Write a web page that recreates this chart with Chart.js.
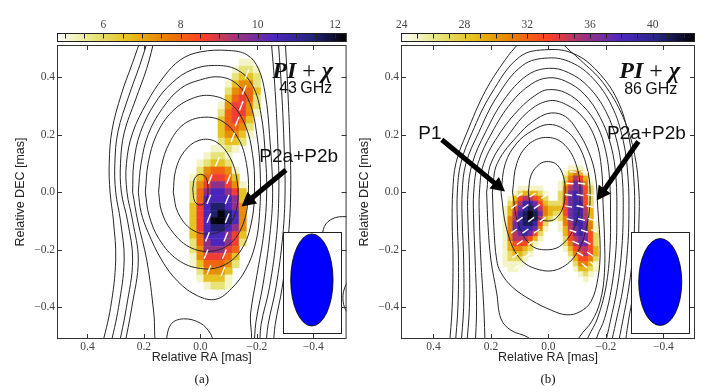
<!DOCTYPE html>
<html>
<head>
<meta charset="utf-8">
<script src="https://cdn.jsdelivr.net/npm/chart.js@4.4.1/dist/chart.umd.min.js"></script>
<style>
html,body{margin:0;padding:0;background:#ffffff;}
body{width:720px;height:392px;position:relative;overflow:hidden;}
.pane{position:absolute;top:0;}
#paneA{left:0;width:354px;height:392px;}
#paneB{left:354px;width:366px;height:392px;}
</style>
</head>
<body>
<div class="pane" id="paneA"><canvas id="chartA" width="354" height="392"></canvas></div>
<div class="pane" id="paneB"><canvas id="chartB" width="366" height="392"></canvas></div>
<script>
// ---------------- DATA ----------------
const axisTicks = [0.4, 0.2, 0.0, -0.2, -0.4];

// colour bars
const cbTicksA = [6, 8, 10, 12];
const cbMinorA = [5, 5.5, 6, 6.5, 7, 7.5, 8, 8.5, 9, 9.5, 10, 10.5, 11, 11.5, 12];
const cbRangeA = [4.8, 12.3];
const cbTicksB = [24, 28, 32, 36, 40];
const cbMinorB = [25, 26, 27, 28, 29, 30, 31, 32, 33, 34, 35, 36, 37, 38, 39, 40, 41, 42];
const cbRangeB = [23.95, 42.7];

// polarised intensity maps: one character per pixel ('.' = blank)
const heatLevelsA = {'1':5.2,'2':5.8,'3':6.6,'4':7.4,'5':8.0,'6':8.7,'7':9.6,'8':10.5,'9':11.5,'X':12.2};
const heatCellA = 0.025, heatX0A = 0.05, heatY0A = 0.45;
const heatRowsA = [
"........11..",
".......1221.",
".......2332.",
"......13442.",
"......24553.",
"......35652.",
".....146642.",
".....256641.",
".....35653..",
".....35542..",
".....34431..",
".....2332...",
"....1121....",
"...1221.....",
"..12332.....",
"..245541....",
".1356653....",
".24677641...",
".25788763...",
".25888873...",
".36899874...",
".3689X984...",
".368XX984...",
".36899874...",
".35888763...",
".25788762...",
".2477765....",
".1466653....",
".1355542....",
"..24443.....",
"..13331.....",
"...1221....."
];

const heatLevelsB = {'1':25,'2':27,'3':29,'4':31,'5':33,'6':35,'7':37,'8':39,'9':41,'X':42.5};
const heatCellB = 0.0175, heatX0B = 0.15, heatY0B = 0.10;
const heatRowsB = [
".....................",
".............111.....",
"............13431....",
"............24653....",
"...........1357641...",
"...11111...1467752...",
"..1233321..2478752...",
".13566542..2578752...",
".24688753222578852...",
"135789864333578863...",
"13689X974322578863...",
"14689X963212478863...",
"147899852..14688741..",
"147888741..13678741..",
"14678752....3578752..",
"14666531....2567752..",
"1355531.....2467752..",
"134432......1356653..",
"123321.......245653..",
"12221........135542..",
"1111..........24431..",
".11...........13321..",
"...............121...",
"................1...."
];

// EVPA sticks: [RA, DEC, angle(deg)]
const evpaA = [
[-0.165,0.41,-68],[-0.155,0.355,-68],[-0.145,0.30,-68],[-0.13,0.245,-68],[-0.115,0.19,-68],
[-0.06,0.105,-68],
[-0.035,0.045,-68],[-0.10,0.045,-68],
[-0.03,-0.025,-68],[-0.095,-0.025,-68],
[-0.03,-0.09,-68],[-0.095,-0.09,-68],
[-0.025,-0.155,-68],[-0.09,-0.155,-68],
[-0.02,-0.215,-68],[-0.085,-0.215,-68],
[-0.03,-0.27,-68],[-0.08,-0.275,-68]
];
const evpaB = [
[0.10,-0.01,-35],[0.055,-0.01,-35],[0.015,-0.015,-35],
[0.12,-0.05,-35],[0.08,-0.05,-35],[0.04,-0.05,-35],
[0.10,-0.095,-35],[0.06,-0.095,-35],[0.02,-0.095,-35],
[0.12,-0.135,-35],[0.08,-0.135,-35],[0.04,-0.135,-35],
[0.10,-0.175,-35],[0.06,-0.175,-35],
[0.115,-0.22,-35],[0.075,-0.22,-35],
[0.11,-0.26,-35],
[-0.085,0.07,5],[-0.125,0.07,5],
[-0.075,0.03,5],[-0.115,0.03,8],
[-0.07,-0.01,8],[-0.11,-0.01,10],[-0.145,-0.01,10],
[-0.07,-0.05,10],[-0.11,-0.05,12],[-0.145,-0.05,12],
[-0.075,-0.095,15],[-0.115,-0.095,15],[-0.15,-0.095,18],
[-0.085,-0.135,20],[-0.125,-0.135,20],[-0.16,-0.135,22],
[-0.095,-0.175,25],[-0.135,-0.175,28],
[-0.11,-0.215,32],[-0.145,-0.215,35],
[-0.125,-0.255,40],[-0.155,-0.25,40]
];

// total intensity contours [RA, DEC]
const contoursAClosed = [
[[0.027,0.01],[0.02,0.048],[0.0,0.062],[-0.02,0.05],[-0.027,0.01],[-0.02,-0.03],[0.0,-0.045],[0.02,-0.032]],
[[0.096,0.0],[0.088,0.075],[0.058,0.14],[0.005,0.18],[-0.055,0.175],[-0.105,0.12],[-0.13,0.04],[-0.13,-0.05],[-0.1,-0.115],[-0.04,-0.145],[0.03,-0.13],[0.08,-0.07]],
[[0.148,0.0],[0.138,0.09],[0.11,0.17],[0.06,0.235],[-0.01,0.26],[-0.08,0.245],[-0.135,0.185],[-0.163,0.1],[-0.17,0.0],[-0.155,-0.1],[-0.11,-0.175],[-0.04,-0.205],[0.04,-0.19],[0.105,-0.13],[0.138,-0.065]],
[[0.195,0.0],[0.185,0.1],[0.155,0.2],[0.1,0.28],[0.03,0.325],[-0.04,0.335],[-0.11,0.305],[-0.16,0.23],[-0.185,0.13],[-0.192,0.02],[-0.182,-0.1],[-0.145,-0.2],[-0.08,-0.255],[0.0,-0.265],[0.08,-0.235],[0.145,-0.165],[0.182,-0.08]],
[[0.22,0.0],[0.21,0.1],[0.185,0.2],[0.135,0.29],[0.07,0.36],[0.0,0.39],[-0.07,0.40],[-0.13,0.375],[-0.175,0.31],[-0.2,0.2],[-0.212,0.07],[-0.21,-0.07],[-0.195,-0.18],[-0.16,-0.27],[-0.11,-0.335],[-0.055,-0.372],[0.01,-0.36],[0.08,-0.31],[0.137,-0.236],[0.185,-0.14],[0.21,-0.07]],
[[0.24,0.0],[0.236,0.1],[0.213,0.206],[0.16,0.31],[0.1,0.38],[0.03,0.425],[-0.05,0.44],[-0.13,0.425],[-0.185,0.37],[-0.215,0.27],[-0.23,0.13],[-0.235,0.0],[-0.225,-0.14],[-0.2,-0.29],[-0.178,-0.42],[-0.17,-0.54],[-0.06,-0.54],[-0.035,-0.49],[0.0,-0.455],[0.06,-0.44],[0.105,-0.46],[0.13,-0.54],[0.155,-0.54],[0.165,-0.42],[0.19,-0.236],[0.222,-0.1]]
];
const contoursAOpen = [
[[0.27,-0.54],[0.243,-0.4],[0.22,-0.236],[0.24,-0.1],[0.26,0.0],[0.262,0.1],[0.24,0.206],[0.19,0.31],[0.13,0.4],[0.07,0.46],[0.0,0.487],[-0.1,0.492],[-0.165,0.477],[-0.205,0.43],[-0.23,0.34],[-0.245,0.2],[-0.256,0.0],[-0.246,-0.15],[-0.222,-0.32],[-0.197,-0.45],[-0.19,-0.54]],
[[0.29,-0.54],[0.262,-0.4],[0.24,-0.236],[0.258,-0.1],[0.28,0.0],[0.283,0.1],[0.27,0.206],[0.23,0.32],[0.19,0.43],[0.16,0.54]],
[[0.32,-0.54],[0.29,-0.4],[0.27,-0.236],[0.283,-0.1],[0.3,0.0],[0.303,0.1],[0.292,0.21],[0.255,0.33],[0.215,0.44],[0.182,0.54]],
[[0.35,-0.54],[0.318,-0.4],[0.3,-0.236],[0.308,-0.1],[0.32,0.0],[0.323,0.1],[0.313,0.215],[0.28,0.34],[0.24,0.45],[0.208,0.54]],
[[-0.25,0.54],[-0.265,0.35],[-0.275,0.15],[-0.278,0.0],[-0.27,-0.15],[-0.245,-0.33],[-0.215,-0.46],[-0.21,-0.54]],
[[-0.275,0.54],[-0.288,0.35],[-0.297,0.15],[-0.3,0.0],[-0.292,-0.15],[-0.268,-0.33],[-0.24,-0.46],[-0.232,-0.54]],
[[-0.3,0.54],[-0.31,0.35],[-0.318,0.15],[-0.32,0.0],[-0.312,-0.15],[-0.29,-0.33],[-0.265,-0.46],[-0.258,-0.54]],
[[-0.53,-0.085],[-0.48,-0.088],[-0.445,-0.11],[-0.43,-0.15]],
[[-0.53,-0.30],[-0.512,-0.33],[-0.505,-0.37],[-0.515,-0.41],[-0.53,-0.42]]
];

const contoursBClosed = [
[[0.07,0.0],[0.06,0.06],[0.03,0.098],[0.0,0.106],[-0.03,0.095],[-0.052,0.055],[-0.058,0.0],[-0.05,-0.055],[-0.025,-0.092],[0.005,-0.1],[0.035,-0.09],[0.06,-0.055]],
[[0.125,0.0],[0.11,0.1],[0.07,0.165],[0.01,0.19],[-0.05,0.17],[-0.095,0.1],[-0.11,0.0],[-0.095,-0.11],[-0.05,-0.18],[0.0,-0.2],[0.06,-0.185],[0.105,-0.11]],
[[0.165,0.0],[0.15,0.1],[0.11,0.17],[0.057,0.213],[0.0,0.235],[-0.055,0.218],[-0.1,0.17],[-0.133,0.09],[-0.145,0.0],[-0.135,-0.11],[-0.1,-0.21],[-0.04,-0.265],[0.03,-0.27],[0.1,-0.23],[0.145,-0.13]],
[[0.195,0.0],[0.178,0.1],[0.098,0.206],[0.04,0.255],[-0.01,0.275],[-0.06,0.262],[-0.1,0.215],[-0.14,0.14],[-0.163,0.06],[-0.172,-0.06],[-0.18,-0.2],[-0.172,-0.3],[-0.148,-0.38],[-0.11,-0.415],[-0.064,-0.426],[-0.01,-0.41],[0.06,-0.375],[0.125,-0.33],[0.165,-0.28],[0.18,-0.236],[0.19,-0.12]],
[[0.215,0.0],[0.2,0.1],[0.133,0.206],[0.07,0.28],[0.0,0.317],[-0.06,0.305],[-0.12,0.26],[-0.165,0.18],[-0.185,0.08],[-0.19,-0.04],[-0.195,-0.16],[-0.195,-0.28],[-0.18,-0.38],[-0.15,-0.45],[-0.11,-0.5],[-0.09,-0.54],[0.04,-0.54],[0.07,-0.505],[0.13,-0.48],[0.165,-0.44],[0.18,-0.35],[0.2,-0.236],[0.21,-0.12]]
];
const contoursBOpen = [
[[0.22,-0.54],[0.225,-0.4],[0.235,-0.236],[0.24,-0.1],[0.24,0.0],[0.225,0.1],[0.168,0.206],[0.1,0.29],[0.04,0.34],[0.0,0.356],[-0.06,0.345],[-0.12,0.3],[-0.17,0.23],[-0.2,0.14],[-0.213,0.04],[-0.216,-0.08],[-0.214,-0.2],[-0.2,-0.33],[-0.17,-0.44],[-0.14,-0.5],[-0.125,-0.54]],
[[0.255,-0.54],[0.25,-0.4],[0.255,-0.236],[0.26,-0.1],[0.26,0.0],[0.245,0.1],[0.197,0.206],[0.13,0.31],[0.06,0.375],[0.0,0.397],[-0.06,0.385],[-0.125,0.34],[-0.18,0.26],[-0.218,0.16],[-0.235,0.05],[-0.238,-0.08],[-0.235,-0.2],[-0.22,-0.33],[-0.195,-0.44],[-0.17,-0.5],[-0.16,-0.54]],
[[0.285,-0.54],[0.275,-0.4],[0.275,-0.236],[0.28,-0.1],[0.28,0.0],[0.265,0.1],[0.22,0.206],[0.155,0.32],[0.075,0.405],[0.0,0.43],[-0.07,0.415],[-0.14,0.365],[-0.2,0.28],[-0.24,0.17],[-0.257,0.05],[-0.26,-0.08],[-0.255,-0.2],[-0.24,-0.33],[-0.215,-0.45],[-0.195,-0.54]],
[[0.305,-0.54],[0.295,-0.4],[0.295,-0.236],[0.3,-0.1],[0.3,0.0],[0.287,0.1],[0.243,0.206],[0.18,0.33],[0.09,0.44],[0.0,0.466],[-0.08,0.45],[-0.155,0.395],[-0.22,0.3],[-0.26,0.18],[-0.277,0.05],[-0.28,-0.08],[-0.275,-0.2],[-0.26,-0.33],[-0.235,-0.45],[-0.215,-0.54]],
[[0.325,-0.54],[0.315,-0.4],[0.313,-0.236],[0.317,-0.1],[0.317,0.0],[0.305,0.1],[0.266,0.206],[0.2,0.34],[0.1,0.47],[0.0,0.495],[-0.09,0.48],[-0.17,0.42],[-0.24,0.32],[-0.28,0.19],[-0.297,0.05],[-0.3,-0.08],[-0.295,-0.2],[-0.28,-0.33],[-0.258,-0.45],[-0.24,-0.54]],
[[0.345,-0.54],[0.335,-0.4],[0.332,-0.236],[0.335,-0.1],[0.333,0.0],[0.322,0.1],[0.284,0.206],[0.22,0.35],[0.15,0.46],[0.105,0.515],[0.07,0.55],[-0.03,0.55],[-0.05,0.515],[-0.11,0.46],[-0.19,0.38],[-0.26,0.26],[-0.3,0.13],[-0.315,0.0],[-0.315,-0.1],[-0.31,-0.22],[-0.295,-0.35],[-0.278,-0.45],[-0.265,-0.54]]
];

// restoring beams: [RA centre, DEC centre, semi-axis RA, semi-axis DEC]
const beamA = [-0.395, -0.305, 0.075, 0.160];
const beamB = [-0.389, -0.312, 0.075, 0.151];

// ---------------- HELPERS ----------------
const serif = "'Liberation Serif','DejaVu Serif',serif";
const sans = "'Liberation Sans','Arimo','DejaVu Sans',sans-serif";
const cmapStops = [[0,255,255,255],[0.125,230,230,128],[0.25,230,191,26],[0.375,230,128,0],[0.5,255,64,38],[0.625,153,51,128],[0.75,77,38,191],[0.875,38,38,128],[1,0,0,0]];
function cmap(t){
  t = Math.max(0, Math.min(1, t));
  for (let i = 1; i < cmapStops.length; i++){
    const a = cmapStops[i-1], b = cmapStops[i];
    if (t <= b[0]){
      const f = (t - a[0]) / (b[0] - a[0]);
      return 'rgb(' + Math.round(a[1]+(b[1]-a[1])*f) + ',' + Math.round(a[2]+(b[2]-a[2])*f) + ',' + Math.round(a[3]+(b[3]-a[3])*f) + ')';
    }
  }
  return 'rgb(0,0,0)';
}
function heatPoints(rows, x0, y0, cell, levels){
  const pts = [];
  rows.forEach((row, r) => {
    for (let c = 0; c < row.length; c++){
      const v = levels[row[c]];
      if (v !== undefined) pts.push({x: x0 - c*cell, y: y0 - r*cell, v: v});
    }
  });
  return pts;
}
function fmtAxis(v){
  if (Math.abs(v) < 1e-9) return '0.0';
  const s = Math.abs(v).toFixed(1);
  return v < 0 ? '\u2212' + s : s;
}
function drawArrow(ctx, x1, y1, x2, y2){
  const ang = Math.atan2(y2-y1, x2-x1), hl = 14, hw = 7.5;
  const bx = x2 - hl*Math.cos(ang), by = y2 - hl*Math.sin(ang);
  ctx.beginPath(); ctx.moveTo(x1, y1); ctx.lineTo(bx + Math.cos(ang), by + Math.sin(ang));
  ctx.lineWidth = 5; ctx.strokeStyle = '#000'; ctx.lineCap = 'butt'; ctx.stroke();
  ctx.beginPath(); ctx.moveTo(x2, y2);
  ctx.lineTo(bx + hw*Math.sin(ang), by - hw*Math.cos(ang));
  ctx.lineTo(bx - hw*Math.sin(ang), by + hw*Math.cos(ang));
  ctx.closePath(); ctx.fillStyle = '#000'; ctx.fill();
}

const panelDecor = {
  id: 'panelDecor',
  afterDatasetsDraw(chart, args, o){
    const ctx = chart.ctx, a = chart.chartArea;
    const xs = chart.scales.x, ys = chart.scales.y, cs = chart.scales.cbar;
    const X = v => xs.getPixelForValue(v), Y = v => ys.getPixelForValue(v);
    ctx.save();
    ctx.beginPath(); ctx.rect(a.left, a.top, a.width, a.height); ctx.clip();
    // beam box
    const bl = Math.round(X(o.box[0]))+0.5, br = Math.round(X(o.box[1]))+0.5;
    const bt = Math.round(Y(o.box[2]))+0.5, bb = Math.round(Y(o.box[3]))+0.5;
    ctx.fillStyle = '#fff'; ctx.fillRect(bl, bt, br-bl, bb-bt);
    ctx.strokeStyle = '#222'; ctx.lineWidth = 1; ctx.strokeRect(bl, bt, br-bl, bb-bt);
    const cx = X(o.beam[0]), cy = Y(o.beam[1]);
    const rx = Math.abs(X(o.beam[0]+o.beam[2]) - cx), ry = Math.abs(Y(o.beam[1]+o.beam[3]) - cy);
    ctx.beginPath(); ctx.ellipse(cx, cy, rx, ry, 0, 0, Math.PI*2);
    ctx.fillStyle = '#0000ff'; ctx.fill(); ctx.lineWidth = 0.8; ctx.strokeStyle = '#000'; ctx.stroke();
    // labels
    ctx.fillStyle = '#111'; ctx.textBaseline = 'alphabetic'; ctx.textAlign = 'left';
    for (const L of o.labels){
      let w = 0;
      for (const p of L.parts){ ctx.font = p[1]; w += ctx.measureText(p[0]).width; }
      let sx = L.align === 'right' ? X(L.x) - w : X(L.x);
      const sy = Y(L.y);
      for (const p of L.parts){ ctx.font = p[1]; ctx.fillText(p[0], sx, sy); sx += ctx.measureText(p[0]).width; }
    }
    for (const ar of o.arrows) drawArrow(ctx, X(ar[0]), Y(ar[1]), X(ar[2]), Y(ar[3]));
    ctx.restore();

    // frame + inward ticks
    ctx.save();
    ctx.strokeStyle = '#333'; ctx.lineWidth = 1;
    ctx.strokeRect(a.left+0.5, a.top+0.5, a.width-1, a.height-1);
    ctx.beginPath();
    for (const v of axisTicks){
      const px = Math.round(X(v))+0.5;
      ctx.moveTo(px, a.bottom); ctx.lineTo(px, a.bottom-5);
      ctx.moveTo(px, a.top); ctx.lineTo(px, a.top+5);
      const py = Math.round(Y(v))+0.5;
      ctx.moveTo(a.left, py); ctx.lineTo(a.left+5, py);
      ctx.moveTo(a.right, py); ctx.lineTo(a.right-5, py);
    }
    ctx.stroke();
    // colour bar
    const cl = a.left, cr = a.right, ct = Math.round(a.top - 12.5), cbm = Math.round(a.top - 3);
    const g = ctx.createLinearGradient(cl, 0, cr, 0);
    cmapStops.forEach(s => g.addColorStop(s[0], 'rgb(' + s[1] + ',' + s[2] + ',' + s[3] + ')'));
    ctx.fillStyle = g; ctx.fillRect(cl, ct, cr-cl, cbm-ct);
    ctx.strokeStyle = '#222';
    ctx.strokeRect(cl+0.5, ct+0.5, cr-cl-1, cbm-ct-1);
    ctx.beginPath();
    for (const v of o.cbMinor){
      const px = Math.round(cs.getPixelForValue(v))+0.5;
      ctx.moveTo(px, ct); ctx.lineTo(px, ct+5.5);
    }
    ctx.stroke();
    // caption
    ctx.font = '13px ' + serif; ctx.fillStyle = '#111'; ctx.textAlign = 'center'; ctx.textBaseline = 'middle';
    ctx.fillText(o.caption, (a.left+a.right)/2, 380);
    ctx.restore();
  }
};

function buildChart(id, P){
  const datasets = [];
  datasets.push({
    label: 'PI', data: heatPoints(P.rows, P.x0, P.y0, P.cell, P.levels),
    xAxisID: 'x', yAxisID: 'y', order: 3, showLine: false,
    pointStyle: 'rect',
    pointRadius: c => { const s = c.chart.scales.x; return Math.abs(s.getPixelForValue(P.cell) - s.getPixelForValue(0)) / Math.SQRT2; },
    pointHoverRadius: c => { const s = c.chart.scales.x; return Math.abs(s.getPixelForValue(P.cell) - s.getPixelForValue(0)) / Math.SQRT2; },
    backgroundColor: c => (c.raw && c.raw.v !== undefined) ? cmap((c.raw.v - P.cb[0]) / (P.cb[1] - P.cb[0])) : 'rgba(0,0,0,0)',
    borderColor: c => (c.raw && c.raw.v !== undefined) ? cmap((c.raw.v - P.cb[0]) / (P.cb[1] - P.cb[0])) : 'rgba(0,0,0,0)',
    borderWidth: 0.7
  });
  const addContour = (pts, closed) => {
    const d = pts.map(p => ({x: p[0], y: p[1]}));
    if (closed) d.push({x: pts[0][0], y: pts[0][1]});
    datasets.push({label: 'I', data: d, xAxisID: 'x', yAxisID: 'y', order: 2, showLine: true,
      tension: 0.38, capBezierPoints: false, borderColor: '#262626', borderWidth: 1, pointRadius: 0, pointHoverRadius: 0, fill: false});
  };
  P.closed.forEach(c => addContour(c, true));
  P.open.forEach(c => addContour(c, false));
  datasets.push({
    label: 'EVPA', data: P.evpa.map(e => ({x: e[0], y: e[1], r: e[2]})),
    xAxisID: 'x', yAxisID: 'y', order: 1, showLine: false,
    pointStyle: 'line', pointRadius: P.stick, pointHoverRadius: P.stick,
    rotation: c => (c.raw && c.raw.r !== undefined) ? c.raw.r : 0,
    borderColor: '#ffffff', borderWidth: 1.4, backgroundColor: '#ffffff'
  });

  return new Chart(document.getElementById(id), {
    type: 'scatter',
    data: {datasets},
    plugins: [panelDecor],
    options: {
      responsive: false, animation: false, events: [],
      layout: {padding: {left: 0, right: P.padRight, top: 0, bottom: 0}},
      plugins: {
        legend: {display: false}, tooltip: {enabled: false},
        panelDecor: {box: P.box, beam: P.beam, labels: P.labels, arrows: P.arrows, cbMinor: P.cbMinor, caption: P.caption}
      },
      scales: {
        x: {
          type: 'linear', position: 'bottom', reverse: true, min: P.xr[0], max: P.xr[1],
          afterBuildTicks: s => { s.ticks = axisTicks.map(v => ({value: v})); },
          afterFit: s => { s.height = 53; },
          grid: {display: false, drawTicks: false}, border: {display: false},
          ticks: {padding: 1, autoSkip: false, maxRotation: 0, color: '#444', font: {family: serif, size: 11.5}, callback: v => fmtAxis(v)},
          title: {display: true, text: 'Relative RA [mas]', color: '#222', font: {family: sans, size: 12.5}, padding: {top: 0, bottom: 26.5}}
        },
        y: {
          type: 'linear', position: 'left', min: -0.51, max: 0.511,
          afterBuildTicks: s => { s.ticks = axisTicks.map(v => ({value: v})); },
          afterFit: s => { s.width = P.yWidth; },
          grid: {display: false, drawTicks: false}, border: {display: false},
          ticks: {padding: 2, autoSkip: false, color: '#444', font: {family: serif, size: 11.5}, callback: v => fmtAxis(v)},
          title: {display: true, text: 'Relative DEC [mas]', color: '#222', font: {family: sans, size: 12.5}, padding: {top: P.yTitlePad, bottom: 0}}
        },
        cbar: {
          type: 'linear', axis: 'x', position: 'top', min: P.cb[0], max: P.cb[1],
          afterBuildTicks: s => { s.ticks = P.cbTicks.map(v => ({value: v})); },
          afterFit: s => { s.height = 45; },
          grid: {display: false, drawTicks: false}, border: {display: false},
          ticks: {padding: 13, autoSkip: false, maxRotation: 0, color: '#444', font: {family: serif, size: 11.5}, callback: v => String(v)}
        }
      }
    }
  });
}

buildChart('chartA', {
  rows: heatRowsA, x0: heatX0A, y0: heatY0A, cell: heatCellA, levels: heatLevelsA,
  cb: cbRangeA, cbTicks: cbTicksA, cbMinor: cbMinorA,
  closed: contoursAClosed, open: contoursAOpen, evpa: evpaA, stick: 5,
  xr: [-0.518, 0.508], yWidth: 57, yTitlePad: 13.5, padRight: 2,
  box: [-0.293, -0.5, -0.137, -0.49], beam: beamA,
  labels: [
    {parts: [['PI', 'bold italic 24px ' + serif], [' + ', '24px ' + serif], ['\u03C7', 'bold italic 24px ' + serif]], x: -0.47, y: 0.397, align: 'right'},
    {parts: [['43\u2009GHz', '16px ' + sans]], x: -0.467, y: 0.343, align: 'right'},
    {parts: [['P2a+P2b', '19px ' + sans]], x: -0.209, y: 0.105, align: 'left'}
  ],
  arrows: [[-0.303, 0.077, -0.146, -0.05]],
  caption: '(a)'
});

buildChart('chartB', {
  rows: heatRowsB, x0: heatX0B, y0: heatY0B, cell: heatCellB, levels: heatLevelsB,
  cb: cbRangeB, cbTicks: cbTicksB, cbMinor: cbMinorB,
  closed: contoursBClosed, open: contoursBOpen, evpa: evpaB, stick: 3.6,
  xr: [-0.51, 0.513], yWidth: 47, yTitlePad: 3, padRight: 25,
  box: [-0.287, -0.49, -0.137, -0.49], beam: beamB,
  labels: [
    {parts: [['PI', 'bold italic 24px ' + serif], [' + ', '24px ' + serif], ['\u03C7', 'bold italic 24px ' + serif]], x: -0.458, y: 0.397, align: 'right'},
    {parts: [['86\u2009GHz', '16px ' + sans]], x: -0.448, y: 0.34, align: 'right'},
    {parts: [['P1', '19px ' + sans]], x: 0.453, y: 0.183, align: 'left'},
    {parts: [['P2a+P2b', '19px ' + sans]], x: -0.204, y: 0.183, align: 'left'}
  ],
  arrows: [[0.371, 0.182, 0.151, 0.002], [-0.313, 0.176, -0.168, -0.029]],
  caption: '(b)'
});
</script>
</body>
</html>
